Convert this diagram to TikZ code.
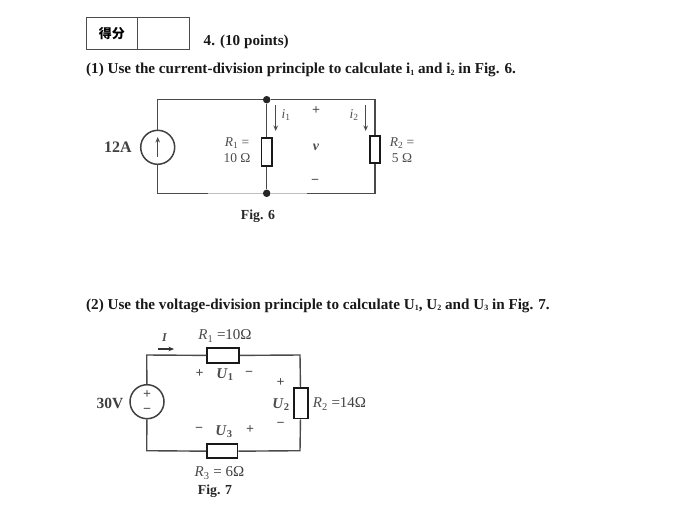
\documentclass[tikz,border=0pt]{standalone}
\usepackage{fontspec}
\setmainfont{Liberation Serif}
\newfontfamily\cjk{Noto Sans CJK SC}
\usetikzlibrary{arrows.meta}
\definecolor{wire}{HTML}{4A4A4A}
\definecolor{label}{HTML}{4D4D4D}
\newcommand{\var}[2]{\textit{#1}\textsubscript{#2}}
\newcommand{\low}[1]{\raisebox{-1.5pt}{\fontsize{8}{8}\selectfont #1}}
\tikzset{%
	every txt/.style={
		font=\bfseries\fontsize{15.15}{16}\selectfont,
		text=black!90,
		inner sep=0pt
	},
	every cap/.style={
		font=\bfseries\fontsize{13.8}{15}\selectfont,
		text=black!85,
		inner sep=0pt
	},
	every res/.style={
		rectangle,
		draw=black!90,
		line width=1.8pt,
		fill=white,
		inner sep=0pt
	},
	every src/.style={
		circle,
		draw=black!75,
		line width=1.5pt,
		fill=white,
		minimum size=34pt,
		inner sep=0pt
	},
	every lbl/.style={
		font=\fontsize{13.5}{14}\selectfont,
		text=label,
		inner sep=0pt,
		align=center
	},
	every val/.style={
		font=\bfseries\fontsize{15.5}{16}\selectfont,
		text=black!75,
		inner sep=0pt
	},
	every dot/.style={
		circle,
		fill=black!85,
		minimum size=7.5pt,
		inner sep=0pt
	},
}

\begin{document}
\begin{tikzpicture}[x=1pt, y=-1pt, >={Stealth[length=5.5pt,width=4.5pt]}]
	\useasboundingbox (0,0) rectangle (700,530);

	% score table
	\node [draw=black!70, line width=1pt, minimum width=51pt, minimum height=32.7pt, inner sep=0pt] (score-1) at (111.8,33.6) {\cjk\bfseries\fontsize{13}{14}\selectfont 得分};
	\node [draw=black!70, line width=1pt, minimum width=52pt, minimum height=32.7pt, inner sep=0pt] (score-2) at (163.3,33.6) {};

	% question text
	\node [every txt/.try, anchor=west] (head) at (203.5,41.5) {4. (10 points)};
	\node [every txt/.try, anchor=west] (part1) at (86,70) {(1) Use the current-division principle to calculate i\low{1} and i\low{2} in Fig. 6.};
	\node [every txt/.try, anchor=west] (part2) at (86,305.5) {(2) Use the voltage-division principle to calculate U\low{1}, U\low{2} and U\low{3} in Fig. 7.};
	\node [every cap/.try] (fig6) at (258,216.5) {Fig. 6};
	\node [every cap/.try] (fig7) at (215,491.5) {Fig. 7};

	% first circuit: corners, junctions, elements
	\coordinate (a-tl) at (157.7,99.7);
	\coordinate (a-tr) at (375,99.7);
	\coordinate (a-bl) at (157.7,193.3);
	\coordinate (a-br) at (375,193.3);
	\coordinate (a-f1) at (208,193.3);
	\coordinate (a-f2) at (307,193.3);
	\node [every dot/.try] (a-top) at (266.7,99.7) {};
	\node [every dot/.try] (a-bot) at (266.7,193.3) {};
	\node [every src/.try] (a-src) at (157.7,147.3) {};
	\node [every res/.try, minimum width=10.5pt, minimum height=27.5pt] (a-r1) at (266.7,152) {};
	\node [every res/.try, minimum width=10.5pt, minimum height=27pt] (a-r2) at (375,149.5) {};

	% first circuit: wires
	\draw [wire, line width=1.4pt] (a-src) -- (a-tl) -- (a-top) -- (a-tr) -- (a-r2);
	\draw [wire, line width=1.4pt] (a-r2) -- (a-br) -- (a-f2);
	\draw [black!25, line width=1.4pt] (a-f2) -- (a-bot) -- (a-f1);
	\draw [wire, line width=1.4pt] (a-f1) -- (a-bl) -- (a-src);
	\draw [wire, line width=1.4pt] (a-top) -- (a-r1);
	\draw [wire, line width=1.4pt] (a-r1) -- (a-bot);

	% first circuit: arrows
	\coordinate (a-s1) at (157.7,156.5);
	\coordinate (a-s2) at (157.7,137);
	\coordinate (a-i1s) at (275.7,105);
	\coordinate (a-i1e) at (275.7,131);
	\coordinate (a-i2s) at (365.7,105);
	\coordinate (a-i2e) at (365.7,131);
	\draw [->, wire, line width=1.1pt] (a-s1) -- (a-s2);
	\draw [->, wire, line width=1.1pt] (a-i1s) -- (a-i1e);
	\draw [->, wire, line width=1.1pt] (a-i2s) -- (a-i2e);

	% first circuit: labels
	\node [every val/.try, font=\bfseries\fontsize{16}{17}\selectfont] (a-12) at (118,147.5) {12A};
	\node [every lbl/.try] (a-l1) at (237,150) {\var{R}{1} =\\[2pt]10 Ω};
	\node [every lbl/.try] (a-l2) at (402,150) {\var{R}{2} =\\[2pt]5 Ω};
	\node [every lbl/.try] (a-i1) at (286,115) {\var{i}{1}};
	\node [every lbl/.try] (a-i2) at (354,115) {\var{i}{2}};
	\node [every lbl/.try, font=\bfseries\fontsize{14}{15}\selectfont] (a-p) at (316,111) {+};
	\node [every lbl/.try, font=\bfseries\fontsize{14}{15}\selectfont] (a-v) at (316,147) {\textit{v}};
	\node [every lbl/.try, font=\bfseries\fontsize{14}{15}\selectfont] (a-m) at (315,182) {−};

	% second circuit: corners and elements
	\coordinate (b-tl) at (146.7,355);
	\coordinate (b-tr) at (300,355);
	\coordinate (b-bl) at (146.7,450.7);
	\coordinate (b-br) at (300,450.7);
	\node [every src/.try] (b-src) at (147,401.7) {};
	\node [every res/.try, minimum width=32pt, minimum height=15pt] (b-r1) at (223.3,355.5) {};
	\node [every res/.try, minimum width=14pt, minimum height=30.5pt] (b-r2) at (300.7,403.2) {};
	\node [every res/.try, minimum width=30.5pt, minimum height=14pt] (b-r3) at (222.2,451.3) {};

	% second circuit: wires
	\draw [wire, line width=1.4pt] (b-src) -- (b-tl) -- (b-r1);
	\draw [wire, line width=1.4pt] (b-r1) -- (b-tr) -- (b-r2);
	\draw [wire, line width=1.4pt] (b-r2) -- (b-br) -- (b-r3);
	\draw [wire, line width=1.4pt] (b-r3) -- (b-bl) -- (b-src);

	% second circuit: current arrow
	\coordinate (b-is) at (158,349);
	\coordinate (b-ie) at (174,349);
	\draw [->, black!80, line width=1.1pt] (b-is) -- (b-ie);

	% second circuit: labels
	\node [every val/.try] (b-30) at (110,403) {30V};
	\node [every lbl/.try, font=\bfseries\fontsize{14}{15}\selectfont] (b-sp) at (147,394.5) {+};
	\node [every lbl/.try, font=\bfseries\fontsize{14}{15}\selectfont] (b-sm) at (147,410.5) {−};
	\node [every lbl/.try, font=\bfseries\itshape\fontsize{12}{13}\selectfont] (b-i) at (164.5,338) {I};
	\node [every val/.try, font=\bfseries\fontsize{15}{16}\selectfont] (b-l1) at (225,336) {\mdseries\textcolor{label}{\var{R}{1}} =10Ω};
	\node [every val/.try, font=\bfseries\fontsize{15}{16}\selectfont] (b-l2) at (339.5,404) {\mdseries\textcolor{label}{\var{R}{2}} =14Ω};
	\node [every val/.try, font=\bfseries\fontsize{15}{16}\selectfont] (b-l3) at (219.5,473) {\mdseries\textcolor{label}{\var{R}{3}} = 6Ω};
	\node [every lbl/.try, font=\bfseries\fontsize{15}{16}\selectfont] (b-u1) at (225,375) {\var{U}{1}};
	\node [every lbl/.try, font=\bfseries\fontsize{15}{16}\selectfont] (b-u2) at (281,405) {\var{U}{2}};
	\node [every lbl/.try, font=\bfseries\fontsize{15}{16}\selectfont] (b-u3) at (224,431.5) {\var{U}{3}};
	\foreach \n/\x/\y in {a/199.5/374, b/280.5/383, c/250/430}
	\node [every lbl/.try, font=\bfseries\fontsize{14}{15}\selectfont] (b-p\n) at (\x,\y) {+};
	\foreach \n/\x/\y in {a/249/374, b/280.5/424.5, c/199/430}
	\node [every lbl/.try, font=\bfseries\fontsize{14}{15}\selectfont] (b-m\n) at (\x,\y) {−};
\end{tikzpicture}
\end{document}
